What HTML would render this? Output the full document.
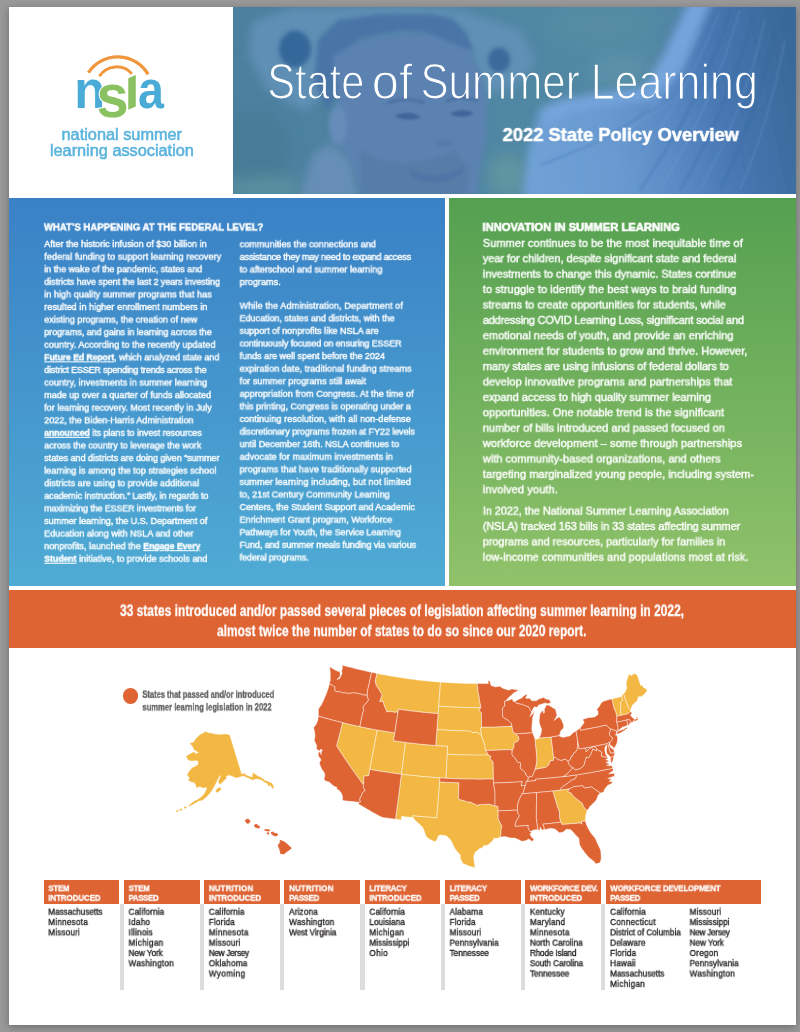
<!DOCTYPE html>
<html lang="en"><head><meta charset="utf-8"><title>State of Summer Learning - 2022 State Policy Overview</title>
<style>html,body{margin:0;padding:0}
body{width:800px;height:1032px;overflow:hidden;position:relative;background:#999;font-family:"Liberation Sans",sans-serif;}
#page{position:absolute;left:9px;top:7px;width:787px;height:1018px;background:#fff;box-shadow:0 1.5px 8px 0 rgba(0,0,0,.3);}
.t{position:absolute;white-space:nowrap;transform-origin:0 0;margin:0;will-change:transform;}
.w{color:#fff}
.b{font-weight:bold}
.ctr{left:9px!important;width:787px;text-align:center;transform-origin:50% 0;}
#photo{position:absolute;left:233px;top:7px;width:563px;height:187px;background:#4f7fae;overflow:hidden}
#blue{position:absolute;left:9px;top:198px;width:436px;height:387.8px;background:linear-gradient(#3a81c6,#4fabd4)}
#green{position:absolute;left:449px;top:198px;width:347px;height:387.8px;background:linear-gradient(#54a051,#90c26a)}
#banner{position:absolute;left:9px;top:590.3px;width:787px;height:57.7px;background:#df6434}
#dot{position:absolute;left:122.5px;top:688px;width:15.8px;height:15.8px;border-radius:50%;background:#df6434}
.leg{color:#5f6062;font-weight:bold}
#map{position:absolute;left:0;top:0;width:800px;height:1032px;pointer-events:none}
.th{position:absolute;top:880.4px;height:23.7px;background:#df6434}
.bar{position:absolute;top:904.1px;width:4.2px;height:86.4px;background:#dcddde}
.td{color:#231f20}
.body u{text-decoration-thickness:0.5px;text-underline-offset:0.7px}
.body b{font-size:.96em}
.h1{-webkit-text-stroke:0.4px #fff}
.body{-webkit-text-stroke:0.42px #fff;}
.td{-webkit-text-stroke:0.35px #231f20}
.hd{-webkit-text-stroke:0.3px #fff}
.hv{-webkit-text-stroke:0.6px #fff}
.leg{-webkit-text-stroke:0.3px #5f6062}
.sub{-webkit-text-stroke:0.5px #fff}
.bn{-webkit-text-stroke:0.3px #fff}
</style></head>
<body>
<div id="page"></div>
<div id="photo"><svg width="563" height="187" viewBox="233 7 563 187">
<defs>
<linearGradient id="pg" x1="0" y1="0" x2="1" y2="0"><stop offset="0" stop-color="#4b809e"/><stop offset=".5" stop-color="#5087a3"/><stop offset=".75" stop-color="#5288a4"/><stop offset="1" stop-color="#4a7fa8"/></linearGradient>
<linearGradient id="rg" gradientUnits="userSpaceOnUse" x1="522" y1="120" x2="796" y2="60"><stop offset="0" stop-color="#6fa1d6"/><stop offset=".3" stop-color="#6899d0"/><stop offset=".5" stop-color="#5a8ac4"/><stop offset=".72" stop-color="#4676b1"/><stop offset="1" stop-color="#386898"/></linearGradient>
<filter id="b2" x="-50%" y="-50%" width="200%" height="200%"><feGaussianBlur stdDeviation="2.2"/></filter>
<filter id="b4" x="-50%" y="-50%" width="200%" height="200%"><feGaussianBlur stdDeviation="4"/></filter>
<filter id="b8" x="-50%" y="-50%" width="200%" height="200%"><feGaussianBlur stdDeviation="8"/></filter>
<filter id="b1" x="-50%" y="-50%" width="200%" height="200%"><feGaussianBlur stdDeviation="1"/></filter>
</defs>
<rect x="233" y="7" width="563" height="187" fill="url(#pg)"/>
<g filter="url(#b8)">
<ellipse cx="255" cy="150" rx="35" ry="40" fill="#467c97"/>
<ellipse cx="265" cy="188" rx="40" ry="10" fill="#5a929f"/>
<ellipse cx="508" cy="176" rx="20" ry="22" fill="#5f96a0"/>
<ellipse cx="600" cy="25" rx="50" ry="22" fill="#548ca3"/>
<ellipse cx="620" cy="70" rx="30" ry="18" fill="#5a90a8"/>
</g>
<g filter="url(#b4)">
<path d="M687,0 L662,55 L645,87 L600,92 L560,100 L540,108 L528,150 L522,200 L800,200 L800,0 Z" fill="url(#rg)"/>
<path d="M690,0 L712,0 L682,70 L655,100 L610,104 L570,112 L548,125 L540,110 L560,100 L645,87 L664,55 Z" fill="#74a4dc"/>
<path d="M252,22 L292,8 L340,8 L400,6 L460,10 L520,30 L535,60 L520,85 L485,95 L470,50 L420,30 L362,36 L332,58 L332,87 L305,112 L267,90 L248,55 Z" fill="#6392b8" opacity=".85"/>
<path d="M300,200 L312,155 L330,143 L352,160 L360,200 Z" fill="#668eb6"/>
</g>
<g filter="url(#b2)">
<path d="M337,88 L330,58 L362,40 L400,34 L425,34 L465,44 L480,70 L487,100 L486,140 L480,170 L476,200 L362,200 L350,160 L338,140 Z" fill="#5b82b1"/>
<path d="M318,40 L338,20 L380,14 L430,14 L452,18 L466,32 L475,55 L470,50 L425,32 L400,31 L362,38 L332,58 L338,88 L328,112 L314,80 Z" fill="#4875a6"/>
<ellipse cx="295" cy="49" rx="16" ry="18.5" fill="#35689a"/>
<ellipse cx="499" cy="60" rx="11" ry="12.5" fill="#3a6a9b"/>
<ellipse cx="338" cy="125" rx="9" ry="20" fill="#668cba"/>
<path d="M360,150 Q400,175 455,150 L470,170 L465,200 L362,200 Z" fill="#53779f" opacity=".5"/>
</g>
<g filter="url(#b1)">
<path d="M411,170 Q436,182 463,167 L461,174 Q436,190 412,176 Z" fill="#4f74a6"/>
<path d="M395,116 Q408,109 421,117 Q408,123 395,116 Z M450,114 Q462,107 474,113 Q462,120 450,114 Z" fill="#41649a"/>
<path d="M388,103 Q408,96 424,103 M446,101 Q462,95 478,101" stroke="#4a6fa2" stroke-width="2.5" fill="none"/>
<ellipse cx="443" cy="143" rx="9" ry="4" fill="#5278aa" opacity=".6"/>
<g stroke="#7fabdc" stroke-width="1" fill="none" opacity=".45">
<path d="M720,10 Q690,90 620,190"/><path d="M740,10 Q715,100 660,190"/><path d="M765,20 Q745,110 700,190"/><path d="M785,40 Q770,120 740,190"/><path d="M700,30 Q670,100 590,170"/><path d="M680,95 Q640,130 560,150"/>
</g>
<g stroke="#35629a" stroke-width="1.5" fill="none" opacity=".35">
<path d="M730,10 Q705,95 640,190"/><path d="M753,15 Q730,105 680,190"/><path d="M775,30 Q757,115 720,190"/><path d="M650,110 Q610,140 540,165"/>
</g>
</g>
</svg>
</div>
<svg id="logo" width="224" height="187" viewBox="9 7 224 187" style="position:absolute;left:9px;top:7px" font-family="Liberation Sans, sans-serif" font-weight="bold">
<path d="M88.4,72.6 A35,35 0 0 1 148,74.4" fill="none" stroke="#f0963c" stroke-width="3.2"/>
<path d="M99.4,76.2 A20.4,20.4 0 0 1 131.8,73.7" fill="none" stroke="#f0963c" stroke-width="3"/>
<text transform="translate(74.2,107.5) scale(0.93,1)" font-size="54.5" fill="#4aabd6">n</text>
<text transform="translate(96.4,117.2) scale(0.95,1)" font-size="61" fill="#8bc261" stroke="#fff" stroke-width="2.2" paint-order="stroke">s</text>
<text transform="translate(124.6,111.6) skewY(-24) scale(1.25,1)" font-size="43.5" fill="#8bc261">l</text>
<text transform="translate(138.0,107.5) scale(0.88,1)" font-size="53" fill="#4aabd6">a</text>
<g font-weight="normal" font-size="16" fill="#5bb4dd" stroke="#5bb4dd" stroke-width="0.55" text-anchor="middle">
<text x="121.8" y="140.2" textLength="120.5" lengthAdjust="spacingAndGlyphs">national summer</text>
<text x="121.9" y="155.5" textLength="144" lengthAdjust="spacingAndGlyphs">learning association</text>
</g>
</svg>

<svg id="title" width="563" height="187" viewBox="233 7 563 187" style="position:absolute;left:233px;top:7px" font-family="Liberation Sans, sans-serif" font-size="49.5"><defs><mask id="thin" maskUnits="userSpaceOnUse" x="233" y="7" width="563" height="187"><g fill="#fff" stroke="#000" stroke-width="1.25"><text x="267.24" y="98.6" textLength="97.03" lengthAdjust="spacingAndGlyphs" >State</text><text x="371.81" y="98.6" textLength="40.69" lengthAdjust="spacingAndGlyphs" >of</text><text x="420.50" y="98.6" textLength="159.25" lengthAdjust="spacingAndGlyphs" >Summer</text><text x="590.68" y="98.6" textLength="167.12" lengthAdjust="spacingAndGlyphs" >Learning</text></g></mask></defs><g fill="#fff" mask="url(#thin)"><text x="267.24" y="98.6" textLength="97.03" lengthAdjust="spacingAndGlyphs" class="tw">State</text><text x="371.81" y="98.6" textLength="40.69" lengthAdjust="spacingAndGlyphs" class="tw">of</text><text x="420.50" y="98.6" textLength="159.25" lengthAdjust="spacingAndGlyphs" class="tw">Summer</text><text x="590.68" y="98.6" textLength="167.12" lengthAdjust="spacingAndGlyphs" class="tw">Learning</text></g></svg>
<div class="t w b sub" id="st_0" style="left:502px;top:124px;font-size:18.4px;line-height:22px;transform:translate(0.60px,0.00px) scaleX(0.9963);letter-spacing:-0.000px;"><span>2022 State Policy Overview</span></div>
<div id="blue"></div><div id="green"></div><div id="banner"></div>
<div class="t w b h1" id="h1_0" style="left:43px;top:221px;font-size:10.4px;line-height:13px;transform:translate(0.90px,0.60px) scale(0.9195,0.89);"><span>WHAT’S HAPPENING AT THE FEDERAL LEVEL?</span></div>
<div class="t w body" id="b1_0" style="left:44px;top:238px;font-size:9.3px;line-height:12.587px;transform:translate(0.20px,0.05px) scaleX(0.969);letter-spacing:0.029px;"><span>After the historic infusion of $30 billion in</span></div>
<div class="t w body" id="b1_1" style="left:44px;top:250px;font-size:9.3px;line-height:12.587px;transform:translate(0.20px,0.64px) scaleX(0.969);letter-spacing:0.077px;"><span>federal funding to support learning recovery</span></div>
<div class="t w body" id="b1_2" style="left:44px;top:263px;font-size:9.3px;line-height:12.587px;transform:translate(0.20px,0.22px) scaleX(0.969);letter-spacing:-0.021px;"><span>in the wake of the pandemic, states and</span></div>
<div class="t w body" id="b1_3" style="left:44px;top:275px;font-size:9.3px;line-height:12.587px;transform:translate(0.20px,0.81px) scaleX(0.969);letter-spacing:-0.068px;"><span>districts have spent the last 2 years investing</span></div>
<div class="t w body" id="b1_4" style="left:44px;top:288px;font-size:9.3px;line-height:12.587px;transform:translate(0.20px,0.40px) scaleX(0.969);letter-spacing:0.060px;"><span>in high quality summer programs that has</span></div>
<div class="t w body" id="b1_5" style="left:44px;top:300px;font-size:9.3px;line-height:12.587px;transform:translate(0.20px,0.99px) scaleX(0.969);letter-spacing:0.066px;"><span>resulted in higher enrollment numbers in</span></div>
<div class="t w body" id="b1_6" style="left:44px;top:313px;font-size:9.3px;line-height:12.587px;transform:translate(0.20px,0.57px) scaleX(0.969);letter-spacing:0.021px;"><span>existing programs, the creation of new</span></div>
<div class="t w body" id="b1_7" style="left:44px;top:326px;font-size:9.3px;line-height:12.587px;transform:translate(0.20px,0.16px) scaleX(0.969);letter-spacing:-0.070px;"><span>programs, and gains in learning across the</span></div>
<div class="t w body" id="b1_8" style="left:44px;top:338px;font-size:9.3px;line-height:12.587px;transform:translate(0.20px,0.75px) scaleX(0.969);letter-spacing:0.092px;"><span>country. According to the recently updated</span></div>
<div class="t w body" id="b1_9" style="left:44px;top:351px;font-size:9.3px;line-height:12.587px;transform:translate(0.20px,0.33px) scaleX(0.969);letter-spacing:-0.042px;"><span><b><u>Future Ed Report</u></b>, which analyzed state and</span></div>
<div class="t w body" id="b1_10" style="left:44px;top:363px;font-size:9.3px;line-height:12.587px;transform:translate(0.20px,0.92px) scaleX(0.969);letter-spacing:-0.187px;"><span>district ESSER spending trends across the</span></div>
<div class="t w body" id="b1_11" style="left:44px;top:376px;font-size:9.3px;line-height:12.587px;transform:translate(0.20px,0.51px) scaleX(0.969);letter-spacing:0.053px;"><span>country, investments in summer learning</span></div>
<div class="t w body" id="b1_12" style="left:44px;top:389px;font-size:9.3px;line-height:12.587px;transform:translate(0.20px,0.09px) scaleX(0.969);letter-spacing:-0.001px;"><span>made up over a quarter of funds allocated</span></div>
<div class="t w body" id="b1_13" style="left:44px;top:401px;font-size:9.3px;line-height:12.587px;transform:translate(0.20px,0.68px) scaleX(0.969);letter-spacing:-0.013px;"><span>for learning recovery. Most recently in July</span></div>
<div class="t w body" id="b1_14" style="left:44px;top:414px;font-size:9.3px;line-height:12.587px;transform:translate(0.20px,0.27px) scaleX(0.969);letter-spacing:0.001px;"><span>2022, the Biden-Harris Administration</span></div>
<div class="t w body" id="b1_15" style="left:44px;top:426px;font-size:9.3px;line-height:12.587px;transform:translate(0.20px,0.86px) scaleX(0.969);letter-spacing:-0.060px;"><span><b><u>announced</u></b> its plans to invest resources</span></div>
<div class="t w body" id="b1_16" style="left:44px;top:439px;font-size:9.3px;line-height:12.587px;transform:translate(0.20px,0.44px) scaleX(0.969);letter-spacing:-0.006px;"><span>across the country to leverage the work</span></div>
<div class="t w body" id="b1_17" style="left:44px;top:452px;font-size:9.3px;line-height:12.587px;transform:translate(0.20px,0.03px) scaleX(0.969);letter-spacing:-0.036px;"><span>states and districts are doing given “summer</span></div>
<div class="t w body" id="b1_18" style="left:44px;top:464px;font-size:9.3px;line-height:12.587px;transform:translate(0.20px,0.62px) scaleX(0.969);letter-spacing:0.018px;"><span>learning is among the top strategies school</span></div>
<div class="t w body" id="b1_19" style="left:44px;top:477px;font-size:9.3px;line-height:12.587px;transform:translate(0.20px,0.20px) scaleX(0.969);letter-spacing:0.039px;"><span>districts are using to provide additional</span></div>
<div class="t w body" id="b1_20" style="left:44px;top:489px;font-size:9.3px;line-height:12.587px;transform:translate(0.20px,0.79px) scaleX(0.969);letter-spacing:-0.092px;"><span>academic instruction.” Lastly, in regards to</span></div>
<div class="t w body" id="b1_21" style="left:44px;top:502px;font-size:9.3px;line-height:12.587px;transform:translate(0.20px,0.38px) scaleX(0.969);letter-spacing:-0.147px;"><span>maximizing the ESSER investments for</span></div>
<div class="t w body" id="b1_22" style="left:44px;top:514px;font-size:9.3px;line-height:12.587px;transform:translate(0.20px,0.96px) scaleX(0.969);letter-spacing:-0.033px;"><span>summer learning, the U.S. Department of</span></div>
<div class="t w body" id="b1_23" style="left:44px;top:527px;font-size:9.3px;line-height:12.587px;transform:translate(0.20px,0.55px) scaleX(0.969);letter-spacing:-0.000px;"><span>Education along with NSLA and other</span></div>
<div class="t w body" id="b1_24" style="left:44px;top:540px;font-size:9.3px;line-height:12.587px;transform:translate(0.20px,0.14px) scaleX(0.969);letter-spacing:0.014px;"><span>nonprofits, launched the <b><u>Engage Every</u></b></span></div>
<div class="t w body" id="b1_25" style="left:44px;top:552px;font-size:9.3px;line-height:12.587px;transform:translate(0.20px,0.73px) scaleX(0.969);letter-spacing:0.023px;"><span><b><u>Student</u></b> initiative, to provide schools and</span></div>
<div class="t w body" id="b2a_0" style="left:239px;top:238px;font-size:9.3px;line-height:12.587px;transform:translate(0.60px,0.30px) scaleX(0.9854);letter-spacing:0.009px;"><span>communities the connections and</span></div>
<div class="t w body" id="b2a_1" style="left:239px;top:250px;font-size:9.3px;line-height:12.587px;transform:translate(0.60px,0.89px) scaleX(0.9854);letter-spacing:-0.210px;"><span>assistance they may need to expand access</span></div>
<div class="t w body" id="b2a_2" style="left:239px;top:263px;font-size:9.3px;line-height:12.587px;transform:translate(0.60px,0.47px) scaleX(0.9854);letter-spacing:-0.026px;"><span>to afterschool and summer learning</span></div>
<div class="t w body" id="b2a_3" style="left:239px;top:276px;font-size:9.3px;line-height:12.587px;transform:translate(0.60px,0.06px) scaleX(0.9854);letter-spacing:0.000px;"><span>programs.</span></div>
<div class="t w body" id="b2b_0" style="left:239px;top:299px;font-size:9.3px;line-height:12.587px;transform:translate(0.60px,0.70px) scaleX(0.9675);letter-spacing:0.130px;"><span>While the Administration, Department of</span></div>
<div class="t w body" id="b2b_1" style="left:239px;top:312px;font-size:9.3px;line-height:12.587px;transform:translate(0.60px,0.29px) scaleX(0.9675);letter-spacing:-0.013px;"><span>Education, states and districts, with the</span></div>
<div class="t w body" id="b2b_2" style="left:239px;top:324px;font-size:9.3px;line-height:12.587px;transform:translate(0.60px,0.87px) scaleX(0.9675);"><span>support of nonprofits like NSLA are</span></div>
<div class="t w body" id="b2b_3" style="left:239px;top:337px;font-size:9.3px;line-height:12.587px;transform:translate(0.60px,0.46px) scaleX(0.9675);letter-spacing:-0.126px;"><span>continuously focused on ensuring ESSER</span></div>
<div class="t w body" id="b2b_4" style="left:239px;top:350px;font-size:9.3px;line-height:12.587px;transform:translate(0.60px,0.05px) scaleX(0.9675);letter-spacing:-0.008px;"><span>funds are well spent before the 2024</span></div>
<div class="t w body" id="b2b_5" style="left:239px;top:362px;font-size:9.3px;line-height:12.587px;transform:translate(0.60px,0.63px) scaleX(0.9675);letter-spacing:0.060px;"><span>expiration date, traditional funding streams</span></div>
<div class="t w body" id="b2b_6" style="left:239px;top:375px;font-size:9.3px;line-height:12.587px;transform:translate(0.60px,0.22px) scaleX(0.9675);letter-spacing:0.053px;"><span>for summer programs still await</span></div>
<div class="t w body" id="b2b_7" style="left:239px;top:387px;font-size:9.3px;line-height:12.587px;transform:translate(0.60px,0.81px) scaleX(0.9675);letter-spacing:0.062px;"><span>appropriation from Congress. At the time of</span></div>
<div class="t w body" id="b2b_8" style="left:239px;top:400px;font-size:9.3px;line-height:12.587px;transform:translate(0.60px,0.40px) scaleX(0.9675);letter-spacing:-0.006px;"><span>this printing, Congress is operating under a</span></div>
<div class="t w body" id="b2b_9" style="left:239px;top:412px;font-size:9.3px;line-height:12.587px;transform:translate(0.60px,0.98px) scaleX(0.9675);letter-spacing:0.092px;"><span>continuing resolution, with all non-defense</span></div>
<div class="t w body" id="b2b_10" style="left:239px;top:425px;font-size:9.3px;line-height:12.587px;transform:translate(0.60px,0.57px) scaleX(0.9675);letter-spacing:-0.077px;"><span>discretionary programs frozen at FY22 levels</span></div>
<div class="t w body" id="b2b_11" style="left:239px;top:438px;font-size:9.3px;line-height:12.587px;transform:translate(0.60px,0.16px) scaleX(0.9675);"><span>until December 16th. NSLA continues to</span></div>
<div class="t w body" id="b2b_12" style="left:239px;top:450px;font-size:9.3px;line-height:12.587px;transform:translate(0.60px,0.74px) scaleX(0.9675);letter-spacing:0.069px;"><span>advocate for maximum investments in</span></div>
<div class="t w body" id="b2b_13" style="left:239px;top:463px;font-size:9.3px;line-height:12.587px;transform:translate(0.60px,0.33px) scaleX(0.9675);letter-spacing:0.101px;"><span>programs that have traditionally supported</span></div>
<div class="t w body" id="b2b_14" style="left:239px;top:475px;font-size:9.3px;line-height:12.587px;transform:translate(0.60px,0.92px) scaleX(0.9675);letter-spacing:0.133px;"><span>summer learning including, but not limited</span></div>
<div class="t w body" id="b2b_15" style="left:239px;top:488px;font-size:9.3px;line-height:12.587px;transform:translate(0.60px,0.50px) scaleX(0.9675);letter-spacing:0.031px;"><span>to, 21st Century Community Learning</span></div>
<div class="t w body" id="b2b_16" style="left:239px;top:501px;font-size:9.3px;line-height:12.587px;transform:translate(0.60px,0.09px) scaleX(0.9675);letter-spacing:-0.007px;"><span>Centers, the Student Support and Academic</span></div>
<div class="t w body" id="b2b_17" style="left:239px;top:513px;font-size:9.3px;line-height:12.587px;transform:translate(0.60px,0.68px) scaleX(0.9675);letter-spacing:0.006px;"><span>Enrichment Grant program, Workforce</span></div>
<div class="t w body" id="b2b_18" style="left:239px;top:526px;font-size:9.3px;line-height:12.587px;transform:translate(0.60px,0.27px) scaleX(0.9675);letter-spacing:-0.087px;"><span>Pathways for Youth, the Service Learning</span></div>
<div class="t w body" id="b2b_19" style="left:239px;top:538px;font-size:9.3px;line-height:12.587px;transform:translate(0.60px,0.85px) scaleX(0.9675);letter-spacing:-0.075px;"><span>Fund, and summer meals funding via various</span></div>
<div class="t w body" id="b2b_20" style="left:239px;top:551px;font-size:9.3px;line-height:12.587px;transform:translate(0.60px,0.44px) scaleX(0.9675);letter-spacing:-0.096px;"><span>federal programs.</span></div>
<div class="t w b hv" id="h2_0" style="left:482px;top:219px;font-size:11.5px;line-height:14px;transform:translate(0.50px,0.90px) scaleX(0.9736);"><span>INNOVATION IN SUMMER LEARNING</span></div>
<div class="t w body" id="ga_0" style="left:482px;top:235px;font-size:11.3px;line-height:15.4px;transform:translate(0.80px,0.85px) scaleX(0.978);letter-spacing:0.042px;"><span>Summer continues to be the most inequitable time of</span></div>
<div class="t w body" id="ga_1" style="left:482px;top:251px;font-size:11.3px;line-height:15.4px;transform:translate(0.80px,0.25px) scaleX(0.978);letter-spacing:-0.092px;"><span>year for children, despite significant state and federal</span></div>
<div class="t w body" id="ga_2" style="left:482px;top:266px;font-size:11.3px;line-height:15.4px;transform:translate(0.80px,0.65px) scaleX(0.978);letter-spacing:-0.076px;"><span>investments to change this dynamic. States continue</span></div>
<div class="t w body" id="ga_3" style="left:482px;top:282px;font-size:11.3px;line-height:15.4px;transform:translate(0.80px,0.05px) scaleX(0.978);letter-spacing:0.034px;"><span>to struggle to identify the best ways to braid funding</span></div>
<div class="t w body" id="ga_4" style="left:482px;top:297px;font-size:11.3px;line-height:15.4px;transform:translate(0.80px,0.45px) scaleX(0.978);letter-spacing:-0.015px;"><span>streams to create opportunities for students, while</span></div>
<div class="t w body" id="ga_5" style="left:482px;top:312px;font-size:11.3px;line-height:15.4px;transform:translate(0.80px,0.85px) scaleX(0.978);letter-spacing:-0.223px;"><span>addressing COVID Learning Loss, significant social and</span></div>
<div class="t w body" id="ga_6" style="left:482px;top:328px;font-size:11.3px;line-height:15.4px;transform:translate(0.80px,0.25px) scaleX(0.978);letter-spacing:-0.000px;"><span>emotional needs of youth, and provide an enriching</span></div>
<div class="t w body" id="ga_7" style="left:482px;top:343px;font-size:11.3px;line-height:15.4px;transform:translate(0.80px,0.65px) scaleX(0.978);letter-spacing:-0.004px;"><span>environment for students to grow and thrive. However,</span></div>
<div class="t w body" id="ga_8" style="left:482px;top:359px;font-size:11.3px;line-height:15.4px;transform:translate(0.80px,0.05px) scaleX(0.978);letter-spacing:-0.112px;"><span>many states are using infusions of federal dollars to</span></div>
<div class="t w body" id="ga_9" style="left:482px;top:374px;font-size:11.3px;line-height:15.4px;transform:translate(0.80px,0.45px) scaleX(0.978);letter-spacing:0.029px;"><span>develop innovative programs and partnerships that</span></div>
<div class="t w body" id="ga_10" style="left:482px;top:389px;font-size:11.3px;line-height:15.4px;transform:translate(0.80px,0.85px) scaleX(0.978);letter-spacing:-0.051px;"><span>expand access to high quality summer learning</span></div>
<div class="t w body" id="ga_11" style="left:482px;top:405px;font-size:11.3px;line-height:15.4px;transform:translate(0.80px,0.25px) scaleX(0.978);letter-spacing:0.034px;"><span>opportunities. One notable trend is the significant</span></div>
<div class="t w body" id="ga_12" style="left:482px;top:420px;font-size:11.3px;line-height:15.4px;transform:translate(0.80px,0.65px) scaleX(0.978);letter-spacing:-0.040px;"><span>number of bills introduced and passed focused on</span></div>
<div class="t w body" id="ga_13" style="left:482px;top:436px;font-size:11.3px;line-height:15.4px;transform:translate(0.80px,0.05px) scaleX(0.978);letter-spacing:0.028px;"><span>workforce development – some through partnerships</span></div>
<div class="t w body" id="ga_14" style="left:482px;top:451px;font-size:11.3px;line-height:15.4px;transform:translate(0.80px,0.45px) scaleX(0.978);letter-spacing:0.019px;"><span>with community-based organizations, and others</span></div>
<div class="t w body" id="ga_15" style="left:482px;top:466px;font-size:11.3px;line-height:15.4px;transform:translate(0.80px,0.85px) scaleX(0.978);letter-spacing:0.031px;"><span>targeting marginalized young people, including system-</span></div>
<div class="t w body" id="ga_16" style="left:482px;top:482px;font-size:11.3px;line-height:15.4px;transform:translate(0.80px,0.25px) scaleX(0.978);letter-spacing:0.101px;"><span>involved youth.</span></div>
<div class="t w body" id="gb_0" style="left:482px;top:503px;font-size:11.3px;line-height:15.37px;transform:translate(0.80px,0.60px) scaleX(0.958);letter-spacing:-0.012px;"><span>In 2022, the National Summer Learning Association</span></div>
<div class="t w body" id="gb_1" style="left:482px;top:518px;font-size:11.3px;line-height:15.37px;transform:translate(0.80px,0.97px) scaleX(0.958);letter-spacing:-0.068px;"><span>(NSLA) tracked 163 bills in 33 states affecting summer</span></div>
<div class="t w body" id="gb_2" style="left:482px;top:534px;font-size:11.3px;line-height:15.37px;transform:translate(0.80px,0.34px) scaleX(0.958);"><span>programs and resources, particularly for families in</span></div>
<div class="t w body" id="gb_3" style="left:482px;top:549px;font-size:11.3px;line-height:15.37px;transform:translate(0.80px,0.71px) scaleX(0.958);letter-spacing:0.130px;"><span>low-income communities and populations most at risk.</span></div>
<div class="t w b bn" id="bn1_0" style="left:120px;top:600px;font-size:16.5px;line-height:20.6px;transform:translate(0.00px,0.70px) scale(0.7262,0.95);letter-spacing:-0.000px;"><span>33 states introduced and/or passed several pieces of legislation affecting summer learning in 2022,</span></div>
<div class="t w b bn" id="bn2_0" style="left:217px;top:620px;font-size:16.5px;line-height:20.6px;transform:translate(0.00px,0.90px) scale(0.7235,0.95);letter-spacing:0.000px;"><span>almost twice the number of states to do so since our 2020 report.</span></div>
<div id="dot"></div>
<div class="t leg" id="lg_0" style="left:142px;top:688px;font-size:10.6px;line-height:12.7px;transform:translate(0.40px,0.60px) scale(0.7195,0.92);letter-spacing:-0.094px;"><span>States that passed and/or introduced</span></div>
<div class="t leg" id="lg_1" style="left:142px;top:701px;font-size:10.6px;line-height:12.7px;transform:translate(0.40px,0.30px) scale(0.7195,0.92);letter-spacing:-0.000px;"><span>summer learning legislation in 2022</span></div>
<div id="map"><svg width="800" height="1032" viewBox="0 0 800 1032">
<g fill="#f3b843" stroke="#fff" stroke-width="0.45" stroke-linejoin="round">
<path d="M342.5,722.6L345.4,723.3L348.3,724.0L351.1,724.7L354.0,725.3L356.9,725.9L359.8,726.6L362.7,727.2L365.6,727.8L368.5,728.3L371.4,728.9L374.3,729.5L377.3,730.0L376.6,733.6L375.9,737.1L375.2,740.7L374.6,744.3L373.9,747.9L373.2,751.5L372.6,755.0L371.9,758.6L371.2,762.2L370.5,765.8L369.9,769.4L369.3,772.5L368.7,775.7L366.7,776.0L364.1,776.1L363.9,778.3L363.6,780.5L363.9,782.9L363.2,784.4L360.6,781.0L358.1,777.5L355.6,774.1L353.1,770.6L350.6,767.1L348.2,763.6L345.8,760.1L343.5,756.5L341.2,753.0L338.9,749.5L336.6,745.9L337.5,742.6L338.3,739.3L339.2,735.9L340.0,732.6L340.8,729.3L341.7,725.9Z"/>
<path d="M376.8,673.4L379.3,673.9L381.9,674.4L384.4,674.8L386.9,675.3L389.5,675.8L392.0,676.2L394.5,676.6L397.1,677.0L399.6,677.4L402.2,677.8L404.7,678.2L407.3,678.6L409.8,678.9L412.4,679.3L414.9,679.6L417.5,679.9L420.0,680.2L422.6,680.5L425.2,680.8L427.7,681.0L430.3,681.3L432.8,681.5L435.4,681.7L438.0,681.9L440.5,682.1L440.3,685.6L440.0,689.0L439.8,692.4L439.5,695.9L439.2,699.3L439.0,702.8L438.7,706.2L438.4,709.9L438.1,713.6L435.5,713.4L432.8,713.2L430.2,713.0L427.5,712.7L424.9,712.5L422.2,712.2L419.6,711.9L416.9,711.6L414.3,711.3L411.6,711.0L409.0,710.7L406.4,710.3L403.7,710.0L401.1,709.6L398.4,709.2L398.1,711.3L397.8,713.4L396.7,711.6L395.4,712.4L393.1,712.0L390.8,711.6L388.8,711.7L386.7,711.8L385.7,708.7L384.9,707.4L383.5,703.6L383.1,701.2L381.4,701.4L379.6,701.6L380.7,699.0L381.4,696.7L382.1,694.4L381.0,693.2L379.7,690.8L378.0,688.0L376.2,685.6L375.7,683.4L375.2,681.2L375.7,678.6L376.3,676.0Z"/>
<path d="M377.3,730.0L380.2,730.5L383.1,731.0L386.0,731.5L389.0,732.0L391.9,732.4L394.8,732.9L394.4,735.5L394.0,738.1L393.6,740.8L396.0,741.1L398.4,741.5L400.8,741.8L403.2,742.1L405.6,742.4L405.1,746.0L404.7,749.5L404.2,753.0L403.7,756.6L403.3,760.1L402.8,763.6L402.4,767.2L401.9,770.7L401.4,774.2L398.5,773.8L395.7,773.5L392.8,773.1L389.9,772.6L387.1,772.2L384.2,771.8L381.3,771.3L378.4,770.9L375.6,770.4L372.7,769.9L369.9,769.4L370.5,765.8L371.2,762.2L371.9,758.6L372.6,755.0L373.2,751.5L373.9,747.9L374.6,744.3L375.2,740.7L375.9,737.1L376.6,733.6Z"/>
<path d="M405.6,742.4L408.3,742.8L411.1,743.1L413.8,743.4L416.5,743.7L419.2,744.0L422.0,744.3L424.7,744.5L427.5,744.8L430.2,745.0L432.9,745.3L435.7,745.5L438.1,745.7L440.5,745.8L442.9,746.0L445.3,746.1L447.7,746.3L447.6,748.9L447.4,751.6L447.3,754.3L447.1,757.7L446.9,761.1L446.7,764.5L446.6,768.0L446.4,771.4L446.2,774.8L446.0,778.3L443.0,778.1L439.9,777.9L436.9,777.7L434.0,777.5L431.0,777.3L428.0,777.0L425.1,776.8L422.1,776.5L419.2,776.2L416.2,775.9L413.2,775.6L410.3,775.3L407.3,774.9L404.4,774.6L401.4,774.2L401.9,770.7L402.4,767.2L402.8,763.6L403.3,760.1L403.7,756.6L404.2,753.0L404.7,749.5L405.1,746.0Z"/>
<path d="M401.4,774.2L404.4,774.6L407.3,774.9L410.3,775.3L413.2,775.6L416.2,775.9L419.2,776.2L422.1,776.5L425.1,776.8L428.0,777.0L431.0,777.3L434.0,777.5L436.9,777.7L439.9,777.9L439.8,779.9L439.6,781.9L439.4,785.5L439.1,789.1L438.8,792.7L438.5,796.3L438.3,799.9L438.0,803.5L437.7,807.0L437.4,810.6L437.1,814.2L436.9,817.8L433.8,817.6L430.8,817.4L427.8,817.1L424.8,816.9L421.7,816.6L418.7,816.4L415.7,816.1L412.7,815.8L413.1,817.6L410.3,817.3L407.4,817.0L404.5,816.7L401.7,816.3L401.3,819.9L398.4,819.5L395.5,819.2L396.0,815.5L396.5,811.7L397.0,808.0L397.5,804.2L398.0,800.5L398.5,796.7L399.0,793.0L399.5,789.2L400.0,785.5L400.4,781.7L400.9,778.0Z"/>
<path d="M440.5,682.1L443.2,682.3L445.8,682.5L448.4,682.7L451.0,682.8L453.6,683.0L456.2,683.1L458.8,683.2L461.4,683.3L464.0,683.4L466.7,683.4L469.3,683.5L471.9,683.5L474.5,683.6L477.1,683.6L477.4,685.6L477.8,687.5L477.9,689.9L478.1,692.2L478.6,694.2L479.1,696.2L479.3,698.3L479.5,700.4L480.0,702.7L480.5,705.1L480.8,707.7L478.0,707.7L475.2,707.7L472.4,707.7L469.5,707.6L466.7,707.6L463.9,707.5L461.1,707.4L458.3,707.3L455.5,707.2L452.7,707.1L449.9,706.9L447.1,706.8L444.3,706.6L441.5,706.4L438.7,706.2L439.0,702.8L439.2,699.3L439.5,695.9L439.8,692.4L440.0,689.0L440.3,685.6Z"/>
<path d="M438.7,706.2L441.5,706.4L444.3,706.6L447.1,706.8L449.9,706.9L452.7,707.1L455.5,707.2L458.3,707.3L461.1,707.4L463.9,707.5L466.7,707.6L469.5,707.6L472.4,707.7L475.2,707.7L478.0,707.7L480.8,707.7L479.2,710.4L481.4,712.8L481.4,716.4L481.5,720.0L481.5,723.5L481.5,727.1L480.6,728.7L481.2,731.9L481.5,735.2L480.0,734.3L478.3,733.3L476.5,732.2L474.7,732.5L473.0,732.7L471.2,731.9L469.5,731.0L466.7,731.0L464.0,730.9L461.3,730.8L458.6,730.7L455.9,730.6L453.2,730.5L450.5,730.4L447.7,730.2L445.0,730.1L442.3,729.9L439.6,729.7L436.9,729.5L437.1,726.4L437.4,723.2L437.6,720.0L437.9,716.8L438.1,713.6L438.4,709.9Z"/>
<path d="M436.9,729.5L439.6,729.7L442.3,729.9L445.0,730.1L447.7,730.2L450.5,730.4L453.2,730.5L455.9,730.6L458.6,730.7L461.3,730.8L464.0,730.9L466.7,731.0L469.5,731.0L471.2,731.9L473.0,732.7L474.7,732.5L476.5,732.2L478.3,733.3L480.0,734.3L481.5,735.2L482.1,737.5L482.9,739.5L483.6,741.5L484.3,743.5L484.9,745.5L485.1,747.5L485.2,749.5L485.7,750.4L487.1,752.7L488.6,755.1L485.7,755.1L482.7,755.1L479.7,755.1L476.8,755.1L473.8,755.1L470.9,755.1L467.9,755.0L465.0,754.9L462.0,754.9L459.1,754.8L456.1,754.7L453.2,754.5L450.2,754.4L447.3,754.3L447.4,751.6L447.6,748.9L447.7,746.3L445.3,746.1L442.9,746.0L440.5,745.8L438.1,745.7L435.7,745.5L435.9,742.3L436.2,739.1L436.4,735.9L436.7,732.7Z"/>
<path d="M447.3,754.3L450.2,754.4L453.2,754.5L456.1,754.7L459.1,754.8L462.0,754.9L465.0,754.9L467.9,755.0L470.9,755.1L473.8,755.1L476.8,755.1L479.7,755.1L482.7,755.1L485.7,755.1L488.6,755.1L491.2,756.6L490.0,758.6L491.5,760.3L493.1,762.0L493.2,765.4L493.2,768.8L493.3,772.2L493.4,775.6L493.4,779.0L490.3,779.1L487.1,779.1L483.9,779.1L480.8,779.2L477.6,779.2L474.5,779.1L471.3,779.1L468.1,779.1L465.0,779.0L461.8,778.9L458.7,778.8L455.5,778.7L452.3,778.6L449.2,778.4L446.0,778.3L446.2,774.8L446.4,771.4L446.6,768.0L446.7,764.5L446.9,761.1L447.1,757.7Z"/>
<path d="M439.6,781.9L442.4,782.1L445.1,782.2L447.9,782.4L450.6,782.5L453.4,782.6L456.2,782.7L458.9,782.8L458.8,786.7L458.6,790.6L458.5,794.5L458.4,798.4L460.3,799.7L462.0,800.2L463.6,800.6L465.6,801.2L467.6,801.9L469.2,802.0L470.9,802.2L473.5,803.6L475.3,804.4L477.2,805.2L479.0,804.8L480.8,804.4L482.8,804.4L484.8,804.4L487.2,804.2L489.5,804.1L491.5,804.8L493.5,805.4L495.0,805.9L498.0,806.5L498.0,808.6L498.1,810.8L498.2,813.5L498.2,816.2L498.3,818.9L499.7,822.0L500.8,824.0L501.9,826.0L501.5,828.0L501.0,830.0L501.0,832.0L501.0,833.9L500.3,837.2L498.3,837.8L496.4,838.5L493.9,838.1L493.3,840.1L491.2,842.1L488.0,845.0L485.9,845.4L483.8,845.8L481.7,848.2L479.9,848.2L477.4,850.5L474.9,852.5L474.3,854.7L473.6,856.8L474.0,859.8L474.4,862.8L474.7,865.2L475.0,867.7L472.2,867.1L470.4,866.5L468.6,865.9L465.7,864.6L462.8,863.4L461.6,861.0L460.4,858.6L460.2,856.6L460.1,854.6L457.7,852.2L456.1,850.2L454.6,848.1L453.4,845.7L452.3,843.3L450.3,839.6L448.5,837.9L446.6,836.1L443.8,835.5L441.1,835.0L438.5,835.8L437.7,837.8L436.9,839.7L435.0,841.7L432.2,840.6L430.5,839.7L428.8,838.8L425.9,836.1L425.2,833.9L424.5,831.7L423.6,829.6L422.7,827.5L420.8,825.6L418.9,823.7L417.0,822.0L415.1,820.3L413.1,817.6L412.7,815.8L415.7,816.1L418.7,816.4L421.7,816.6L424.8,816.9L427.8,817.1L430.8,817.4L433.8,817.6L436.9,817.8L437.1,814.2L437.4,810.6L437.7,807.0L438.0,803.5L438.3,799.9L438.5,796.3L438.8,792.7L439.1,789.1L439.4,785.5Z"/>
<path d="M481.5,727.1L484.3,727.1L487.0,727.1L489.8,727.0L492.6,727.0L495.3,726.9L498.1,726.8L500.9,726.7L503.7,726.6L506.4,726.5L509.2,726.3L512.0,726.2L512.3,728.2L512.6,730.2L513.0,732.1L515.9,733.9L518.7,737.0L518.9,739.4L517.5,741.5L515.8,742.2L514.0,742.9L514.0,745.3L514.0,747.7L512.3,749.8L512.3,751.2L510.3,749.5L507.6,749.7L504.8,749.8L502.1,749.9L499.4,750.0L496.6,750.2L493.9,750.2L491.2,750.3L488.5,750.4L485.7,750.4L485.2,749.5L485.1,747.5L484.9,745.5L484.3,743.5L483.6,741.5L482.9,739.5L482.1,737.5L481.5,735.2L481.2,731.9L480.6,728.7Z"/>
<path d="M534.9,738.8L536.9,739.3L539.0,738.0L541.4,737.8L543.9,737.6L546.3,737.4L548.7,737.3L551.1,737.1L551.5,740.5L552.0,743.9L552.4,747.4L552.8,750.8L553.2,754.3L553.7,757.7L553.5,760.3L551.8,760.7L550.1,761.1L548.7,765.0L547.1,766.3L545.5,767.6L544.0,767.8L542.4,768.0L539.9,768.4L537.4,768.8L534.8,770.2L535.5,767.6L536.1,764.9L536.7,761.2L536.7,757.6L536.4,753.8L536.0,750.0L535.6,746.3L535.3,742.5Z"/>
<path d="M552.8,790.9L555.6,790.6L558.4,790.3L561.1,789.9L563.8,789.6L566.4,789.2L569.1,788.8L567.8,791.4L571.0,793.0L573.5,796.3L576.7,799.0L579.0,800.7L582.1,803.0L583.3,806.1L584.6,807.9L585.9,809.7L587.7,810.0L586.4,812.5L585.6,816.2L585.5,818.6L585.4,821.0L583.5,821.2L581.6,821.3L581.7,824.3L580.4,822.9L577.4,823.2L574.3,823.5L571.2,823.7L568.2,824.0L565.1,824.2L562.0,824.4L560.8,822.2L560.1,819.8L559.5,817.5L559.5,814.7L559.4,811.9L558.6,809.7L557.7,807.5L556.7,804.2L555.7,800.9L554.7,797.6L553.8,794.3Z"/>
<path d="M611.8,699.0L614.4,698.3L616.9,697.7L619.5,697.0L622.0,696.3L622.3,698.4L622.6,700.4L620.5,702.6L621.1,704.9L620.8,707.1L620.6,710.8L621.0,713.1L621.4,715.3L619.1,715.8L616.8,716.3L616.0,713.2L615.3,710.1L614.3,709.9L613.6,706.4L612.8,702.9L612.3,700.9Z"/>
<path d="M622.0,696.3L622.1,694.4L623.7,693.5L624.5,696.0L625.3,698.6L626.2,701.1L627.1,703.8L628.1,706.6L628.4,707.9L630.7,710.0L630.5,711.7L628.6,713.3L628.1,713.8L625.9,714.3L623.7,714.8L621.4,715.3L621.0,713.1L620.6,710.8L620.8,707.1L621.1,704.9L620.5,702.6L622.6,700.4L622.3,698.4Z"/>
<path d="M623.7,693.5L625.0,692.3L626.0,690.0L626.9,687.7L626.2,686.2L626.3,683.7L626.5,681.2L627.7,677.7L628.9,674.2L629.8,674.2L631.2,675.7L632.8,674.6L634.5,673.5L637.3,674.9L638.4,678.4L639.5,681.8L640.6,685.3L642.7,685.4L643.5,687.7L646.1,688.5L647.3,690.6L645.9,692.3L644.6,694.0L643.2,695.3L641.8,696.6L640.0,696.7L638.3,696.8L637.5,700.3L635.9,701.9L634.2,703.4L632.3,705.2L631.5,707.6L630.7,710.0L628.4,707.9L628.1,706.6L627.1,703.8L626.2,701.1L625.3,698.6L624.5,696.0Z"/>
</g>
<g fill="#df6434" stroke="#fff" stroke-width="0.45" stroke-linejoin="round">
<path d="M329.2,684.0L329.9,680.9L330.5,680.5L330.2,678.9L330.3,676.5L330.3,674.2L330.2,672.0L329.8,668.3L330.2,666.8L332.5,668.4L334.3,669.4L336.1,670.5L337.5,671.0L338.9,671.6L339.8,671.6L340.2,673.4L340.1,676.0L339.0,677.7L336.9,679.4L339.4,678.7L340.8,676.2L342.0,673.6L341.6,671.1L342.1,669.2L342.6,667.3L341.8,665.0L344.3,665.7L346.8,666.4L349.2,667.0L351.7,667.6L354.2,668.3L356.7,668.9L359.2,669.5L361.7,670.1L364.2,670.6L366.7,671.2L369.2,671.8L371.7,672.3L370.9,675.6L370.2,678.9L369.5,682.2L368.7,685.5L368.0,688.8L367.3,692.1L367.4,694.0L367.2,695.5L364.9,695.1L362.6,694.6L360.4,694.1L358.1,693.5L355.8,693.0L354.1,692.9L352.4,692.9L350.5,693.2L348.7,693.6L346.3,692.9L344.6,692.9L343.0,693.0L341.2,692.3L339.3,691.5L336.9,691.9L334.6,690.5L334.8,688.9L334.8,686.8L333.3,686.0L331.9,684.8L330.6,684.4Z"/>
<path d="M318.3,716.1L318.4,714.1L318.4,712.0L318.3,709.1L319.7,707.2L321.0,705.3L322.2,703.1L323.3,700.9L324.2,698.7L325.1,696.5L326.4,693.5L327.0,691.7L327.7,689.8L328.3,687.9L328.9,686.0L329.2,684.0L330.6,684.4L331.9,684.8L333.3,686.0L334.8,686.8L334.8,688.9L334.6,690.5L336.9,691.9L339.3,691.5L341.2,692.3L343.0,693.0L344.6,692.9L346.3,692.9L348.7,693.6L350.5,693.2L352.4,692.9L354.1,692.9L355.8,693.0L358.1,693.5L360.4,694.1L362.6,694.6L364.9,695.1L367.2,695.5L367.6,697.3L368.6,699.9L367.1,702.0L365.8,703.8L364.1,705.3L362.9,707.2L363.5,709.0L363.9,710.3L362.9,712.3L362.1,715.8L361.3,719.4L360.6,723.0L359.8,726.6L356.9,725.9L354.0,725.3L351.1,724.7L348.3,724.0L345.4,723.3L342.5,722.6L339.8,722.0L337.1,721.3L334.4,720.6L331.7,719.9L329.0,719.1L326.4,718.4L323.7,717.7L321.0,716.9Z"/>
<path d="M342.9,800.5L342.4,799.0L342.6,796.6L341.3,793.1L339.7,791.1L338.0,789.5L336.7,789.2L336.8,787.2L334.6,786.5L332.3,784.9L330.9,783.5L329.5,782.2L327.1,781.4L324.7,780.6L324.0,779.1L324.5,777.0L324.9,774.8L324.1,772.6L322.0,769.5L320.7,766.7L319.5,763.9L319.8,761.5L321.1,760.2L320.3,758.6L318.3,756.1L318.3,753.6L319.0,751.5L320.3,752.5L321.3,754.8L321.1,751.9L322.6,750.2L320.9,749.3L319.1,750.9L316.5,749.0L316.7,745.7L315.5,743.1L314.3,740.4L314.6,738.2L315.0,736.0L314.8,733.9L314.6,731.8L313.6,727.8L315.0,725.8L316.4,723.9L317.1,722.0L317.8,720.2L318.1,718.1L318.3,716.1L321.0,716.9L323.7,717.7L326.4,718.4L329.0,719.1L331.7,719.9L334.4,720.6L337.1,721.3L339.8,722.0L342.5,722.6L341.7,725.9L340.8,729.3L340.0,732.6L339.2,735.9L338.3,739.3L337.5,742.6L336.6,745.9L338.9,749.5L341.2,753.0L343.5,756.5L345.8,760.1L348.2,763.6L350.6,767.1L353.1,770.6L355.6,774.1L358.1,777.5L360.6,781.0L363.2,784.4L363.3,785.7L364.2,789.1L365.3,790.5L363.3,791.8L362.3,792.8L361.6,795.5L360.2,797.7L359.7,800.1L360.7,801.9L359.1,802.2L355.9,801.9L352.7,801.6L349.4,801.3L346.2,800.9Z"/>
<path d="M371.7,672.3L374.2,672.8L376.8,673.4L376.3,676.0L375.7,678.6L375.2,681.2L375.7,683.4L376.2,685.6L378.0,688.0L379.7,690.8L381.0,693.2L382.1,694.4L381.4,696.7L380.7,699.0L379.6,701.6L381.4,701.4L383.1,701.2L383.5,703.6L384.9,707.4L385.7,708.7L386.7,711.8L388.8,711.7L390.8,711.6L393.1,712.0L395.4,712.4L396.7,711.6L397.8,713.4L397.2,717.3L396.6,721.2L396.0,725.1L395.4,729.0L394.8,732.9L391.9,732.4L389.0,732.0L386.0,731.5L383.1,731.0L380.2,730.5L377.3,730.0L374.3,729.5L371.4,728.9L368.5,728.3L365.6,727.8L362.7,727.2L359.8,726.6L360.6,723.0L361.3,719.4L362.1,715.8L362.9,712.3L363.9,710.3L363.5,709.0L362.9,707.2L364.1,705.3L365.8,703.8L367.1,702.0L368.6,699.9L367.6,697.3L367.2,695.5L367.4,694.0L367.3,692.1L368.0,688.8L368.7,685.5L369.5,682.2L370.2,678.9L370.9,675.6Z"/>
<path d="M397.8,713.4L398.1,711.3L398.4,709.2L401.1,709.6L403.7,710.0L406.4,710.3L409.0,710.7L411.6,711.0L414.3,711.3L416.9,711.6L419.6,711.9L422.2,712.2L424.9,712.5L427.5,712.7L430.2,713.0L432.8,713.2L435.5,713.4L438.1,713.6L437.9,716.8L437.6,720.0L437.4,723.2L437.1,726.4L436.9,729.5L436.7,732.7L436.4,735.9L436.2,739.1L435.9,742.3L435.7,745.5L432.9,745.3L430.2,745.0L427.5,744.8L424.7,744.5L422.0,744.3L419.2,744.0L416.5,743.7L413.8,743.4L411.1,743.1L408.3,742.8L405.6,742.4L403.2,742.1L400.8,741.8L398.4,741.5L396.0,741.1L393.6,740.8L394.0,738.1L394.4,735.5L394.8,732.9L395.4,729.0L396.0,725.1L396.6,721.2L397.2,717.3Z"/>
<path d="M369.9,769.4L372.7,769.9L375.6,770.4L378.4,770.9L381.3,771.3L384.2,771.8L387.1,772.2L389.9,772.6L392.8,773.1L395.7,773.5L398.5,773.8L401.4,774.2L400.9,778.0L400.4,781.7L400.0,785.5L399.5,789.2L399.0,793.0L398.5,796.7L398.0,800.5L397.5,804.2L397.0,808.0L396.5,811.7L396.0,815.5L395.5,819.2L392.8,818.8L390.0,818.5L387.3,818.1L384.5,817.7L381.8,817.3L378.8,815.7L375.8,814.0L372.8,812.4L369.9,810.7L366.9,809.0L364.0,807.3L361.1,805.6L358.2,803.9L359.1,802.2L360.7,801.9L359.7,800.1L360.2,797.7L361.6,795.5L362.3,792.8L363.3,791.8L365.3,790.5L364.2,789.1L363.3,785.7L363.2,784.4L363.9,782.9L363.6,780.5L363.9,778.3L364.1,776.1L366.7,776.0L368.7,775.7L369.3,772.5Z"/>
<path d="M439.9,777.9L443.0,778.1L446.0,778.3L449.2,778.4L452.3,778.6L455.5,778.7L458.7,778.8L461.8,778.9L465.0,779.0L468.1,779.1L471.3,779.1L474.5,779.1L477.6,779.2L480.8,779.2L483.9,779.1L487.1,779.1L490.3,779.1L493.4,779.0L493.5,781.0L493.5,783.0L494.0,785.9L494.5,788.9L495.0,791.8L495.0,795.3L495.0,798.8L495.0,802.4L495.0,805.9L493.5,805.4L491.5,804.8L489.5,804.1L487.2,804.2L484.8,804.4L482.8,804.4L480.8,804.4L479.0,804.8L477.2,805.2L475.3,804.4L473.5,803.6L470.9,802.2L469.2,802.0L467.6,801.9L465.6,801.2L463.6,800.6L462.0,800.2L460.3,799.7L458.4,798.4L458.5,794.5L458.6,790.6L458.8,786.7L458.9,782.8L456.2,782.7L453.4,782.6L450.6,782.5L447.9,782.4L445.1,782.2L442.4,782.1L439.6,781.9L439.8,779.9Z"/>
<path d="M477.1,683.6L479.3,683.6L481.6,683.6L483.8,683.6L486.0,683.6L488.3,683.5L488.2,680.5L490.0,681.1L490.5,683.3L491.0,685.4L493.3,686.2L495.6,686.9L497.8,686.5L499.9,686.2L501.6,687.4L503.3,688.5L505.1,689.1L507.0,689.6L508.8,690.1L510.4,689.5L512.0,688.9L514.2,689.3L516.4,689.8L517.8,689.9L519.2,690.0L517.4,690.9L515.7,691.9L513.9,692.8L511.6,695.0L509.2,697.1L507.4,699.1L505.5,701.1L504.5,701.4L504.6,703.8L504.7,706.1L502.5,708.0L502.4,710.7L502.5,713.7L502.6,716.7L505.3,718.6L507.7,720.0L509.5,721.7L511.3,723.4L512.0,726.2L509.2,726.3L506.4,726.5L503.7,726.6L500.9,726.7L498.1,726.8L495.3,726.9L492.6,727.0L489.8,727.0L487.0,727.1L484.3,727.1L481.5,727.1L481.5,723.5L481.5,720.0L481.4,716.4L481.4,712.8L479.2,710.4L480.8,707.7L480.5,705.1L480.0,702.7L479.5,700.4L479.3,698.3L479.1,696.2L478.6,694.2L478.1,692.2L477.9,689.9L477.8,687.5L477.4,685.6Z"/>
<path d="M485.7,750.4L488.5,750.4L491.2,750.3L493.9,750.2L496.6,750.2L499.4,750.0L502.1,749.9L504.8,749.8L507.6,749.7L510.3,749.5L512.3,751.2L511.9,754.2L513.0,756.2L515.6,758.8L517.4,761.9L519.0,762.4L520.6,762.9L520.8,764.9L520.0,768.2L523.0,770.4L525.7,773.0L525.9,775.0L528.4,777.2L527.9,780.5L526.4,781.4L525.9,783.4L525.4,785.5L523.2,785.6L521.0,785.8L521.6,783.7L522.2,781.7L519.0,781.9L515.9,782.1L512.7,782.3L509.5,782.4L506.3,782.6L503.1,782.7L499.9,782.8L496.7,782.9L493.5,783.0L493.5,781.0L493.4,779.0L493.4,775.6L493.3,772.2L493.2,768.8L493.2,765.4L493.1,762.0L491.5,760.3L490.0,758.6L491.2,756.6L488.6,755.1L487.1,752.7Z"/>
<path d="M493.5,783.0L496.7,782.9L499.9,782.8L503.1,782.7L506.3,782.6L509.5,782.4L512.7,782.3L515.9,782.1L519.0,781.9L522.2,781.7L521.6,783.7L521.0,785.8L523.2,785.6L525.4,785.5L524.4,788.8L523.3,792.5L522.1,793.8L520.4,797.1L519.5,799.1L518.6,801.2L518.1,803.2L517.6,805.3L517.5,807.7L517.4,810.1L514.2,810.2L511.0,810.4L507.7,810.5L504.5,810.6L501.3,810.7L498.1,810.8L498.0,808.6L498.0,806.5L495.0,805.9L495.0,802.4L495.0,798.8L495.0,795.3L495.0,791.8L494.5,788.9L494.0,785.9Z"/>
<path d="M498.1,810.8L501.3,810.7L504.5,810.6L507.7,810.5L511.0,810.4L514.2,810.2L517.4,810.1L517.7,812.1L518.1,814.0L519.6,815.5L517.1,819.7L516.2,821.7L515.3,823.8L515.2,826.2L518.5,826.0L521.7,825.8L525.0,825.6L528.3,825.3L528.0,827.8L529.6,830.8L530.2,831.7L531.8,832.7L529.9,834.0L531.5,837.1L534.2,839.6L531.9,841.4L528.8,838.9L526.1,840.6L524.0,841.0L521.9,841.3L520.1,840.4L518.3,839.5L516.5,838.8L514.7,838.1L512.9,838.1L511.1,838.1L507.9,837.3L504.7,836.4L502.5,836.8L500.3,837.2L501.0,833.9L501.0,832.0L501.0,830.0L501.5,828.0L501.9,826.0L500.8,824.0L499.7,822.0L498.3,818.9L498.2,816.2L498.2,813.5Z"/>
<path d="M505.5,701.1L508.0,700.4L510.5,699.6L512.4,698.7L513.1,701.3L514.9,701.6L516.8,703.2L518.7,703.6L520.6,704.0L522.6,704.3L524.3,705.4L526.4,706.0L528.4,706.6L530.4,710.0L531.8,711.9L530.8,714.2L529.9,716.5L531.2,715.2L532.5,713.8L534.7,710.4L533.8,713.7L532.8,717.0L532.5,719.8L532.2,722.7L532.0,725.7L531.7,728.7L532.1,730.7L532.6,732.7L529.8,732.9L527.1,733.2L524.3,733.4L521.5,733.5L518.7,733.7L515.9,733.9L513.0,732.1L512.6,730.2L512.3,728.2L512.0,726.2L511.3,723.4L509.5,721.7L507.7,720.0L505.3,718.6L502.6,716.7L502.5,713.7L502.4,710.7L502.5,708.0L504.7,706.1L504.6,703.8L504.5,701.4Z"/>
<path d="M515.9,733.9L518.7,733.7L521.5,733.5L524.3,733.4L527.1,733.2L529.8,732.9L532.6,732.7L533.5,735.0L534.3,737.3L534.9,738.8L535.3,742.5L535.6,746.3L536.0,750.0L536.4,753.8L536.7,757.6L536.7,761.2L536.1,764.9L535.5,767.6L534.8,770.2L533.6,773.3L532.4,776.3L530.4,776.8L528.4,777.2L525.9,775.0L525.7,773.0L523.0,770.4L520.0,768.2L520.8,764.9L520.6,762.9L519.0,762.4L517.4,761.9L515.6,758.8L513.0,756.2L511.9,754.2L512.3,751.2L512.3,749.8L514.0,747.7L514.0,745.3L514.0,742.9L515.8,742.2L517.5,741.5L518.9,739.4L518.7,737.0Z"/>
<path d="M539.0,738.0L540.6,735.0L541.2,732.4L541.7,729.7L540.5,726.4L539.3,723.1L539.2,719.9L539.5,717.1L539.8,714.3L541.2,712.1L543.0,710.3L543.4,713.1L544.5,712.5L544.3,709.4L545.9,706.0L547.3,704.8L549.2,705.6L551.1,706.5L553.3,708.0L555.6,709.5L556.3,712.4L557.0,715.3L555.6,717.9L554.2,720.5L555.5,719.4L556.8,718.2L558.2,717.6L559.6,717.0L561.8,720.3L562.7,722.6L563.6,724.9L563.6,728.1L561.5,730.0L560.5,731.4L560.2,733.4L559.1,735.8L556.4,736.2L553.8,736.6L551.1,737.1L548.7,737.3L546.3,737.4L543.9,737.6L541.4,737.8Z"/>
<path d="M514.9,701.6L516.6,700.5L518.2,699.4L519.9,698.7L521.5,698.1L523.8,695.9L526.1,694.3L527.1,695.6L525.6,697.7L526.5,698.5L528.2,698.3L529.8,698.2L531.8,700.7L534.0,700.7L536.2,700.7L538.1,699.6L539.9,698.5L541.8,698.0L543.7,697.5L545.2,698.5L547.3,699.4L549.0,699.2L550.5,701.8L551.2,702.7L549.3,703.3L547.3,703.8L545.0,702.9L543.6,703.4L542.3,704.0L540.4,704.6L538.4,705.2L537.0,707.4L534.6,706.7L533.1,708.6L531.8,711.9L530.4,710.0L528.4,706.6L526.4,706.0L524.3,705.4L522.6,704.3L520.6,704.0L518.7,703.6L516.8,703.2Z"/>
<path d="M551.1,737.1L553.8,736.6L556.4,736.2L559.1,735.8L562.0,737.2L563.9,737.3L565.9,736.8L567.9,736.3L569.7,736.0L571.6,734.3L573.4,732.6L576.0,731.1L576.7,734.6L577.3,738.2L577.9,741.7L577.5,743.7L577.7,746.9L577.2,749.4L575.5,752.2L573.5,753.3L572.7,755.9L571.2,756.5L570.4,759.5L568.1,761.3L565.3,759.2L563.3,759.8L561.4,760.5L559.6,760.1L557.8,759.6L555.6,757.5L553.7,757.7L553.2,754.3L552.8,750.8L552.4,747.4L552.0,743.9L551.5,740.5Z"/>
<path d="M528.4,777.2L530.4,776.8L532.4,776.3L533.6,773.3L534.8,770.2L537.4,768.8L539.9,768.4L542.4,768.0L544.0,767.8L545.5,767.6L547.1,766.3L548.7,765.0L550.1,761.1L551.8,760.7L553.5,760.3L553.7,757.7L555.6,757.5L557.8,759.6L559.6,760.1L561.4,760.5L563.3,759.8L565.3,759.2L568.1,761.3L568.5,763.4L570.9,766.7L573.2,767.6L571.1,769.7L569.1,771.8L566.9,774.2L565.2,775.4L563.5,776.7L560.4,777.0L557.3,777.3L554.2,777.6L551.1,777.9L548.0,778.2L544.9,778.5L541.8,778.7L538.7,779.0L535.6,779.2L535.7,780.6L532.6,780.9L529.5,781.2L526.4,781.4L527.9,780.5Z"/>
<path d="M526.4,781.4L529.5,781.2L532.6,780.9L535.7,780.6L535.6,779.2L538.7,779.0L541.8,778.7L544.9,778.5L548.0,778.2L551.1,777.9L554.2,777.6L557.3,777.3L560.4,777.0L563.5,776.7L566.0,776.3L568.6,776.0L571.1,775.6L573.7,775.2L576.2,774.9L576.4,776.8L574.8,779.1L572.9,779.8L571.1,780.4L569.6,781.7L568.2,782.9L565.8,784.7L564.3,785.6L562.8,786.5L561.1,788.3L561.1,789.9L558.4,790.3L555.6,790.6L552.8,790.9L550.0,791.3L547.2,791.6L544.3,791.9L541.5,792.1L538.7,792.4L535.8,792.7L533.1,792.9L530.4,793.1L527.6,793.4L524.9,793.6L522.1,793.8L523.3,792.5L524.4,788.8L525.4,785.5L525.9,783.4Z"/>
<path d="M522.1,793.8L524.9,793.6L527.6,793.4L530.4,793.1L533.1,792.9L535.8,792.7L536.6,793.4L536.5,796.9L536.5,800.3L536.5,803.8L536.4,807.2L536.4,810.6L536.4,814.1L536.3,817.5L536.7,820.6L537.1,823.6L537.5,826.7L537.9,829.8L535.8,829.8L533.7,829.9L531.9,830.8L530.2,831.7L529.6,830.8L528.0,827.8L528.3,825.3L525.0,825.6L521.7,825.8L518.5,826.0L515.2,826.2L515.3,823.8L516.2,821.7L517.1,819.7L519.6,815.5L518.1,814.0L517.7,812.1L517.4,810.1L517.5,807.7L517.6,805.3L518.1,803.2L518.6,801.2L519.5,799.1L520.4,797.1Z"/>
<path d="M535.8,792.7L538.7,792.4L541.5,792.1L544.3,791.9L547.2,791.6L550.0,791.3L552.8,790.9L553.8,794.3L554.7,797.6L555.7,800.9L556.7,804.2L557.7,807.5L558.6,809.7L559.4,811.9L559.5,814.7L559.5,817.5L560.1,819.8L560.8,822.2L557.8,822.5L554.8,822.9L551.9,823.2L548.9,823.5L545.9,823.8L542.9,824.1L543.6,826.0L544.4,828.0L544.0,829.8L542.5,830.1L541.3,829.1L540.1,827.2L540.0,830.4L537.9,829.8L537.5,826.7L537.1,823.6L536.7,820.6L536.3,817.5L536.4,814.1L536.4,810.6L536.4,807.2L536.5,803.8L536.5,800.3L536.5,796.9L536.6,793.4Z"/>
<path d="M544.0,829.8L544.4,828.0L543.6,826.0L542.9,824.1L545.9,823.8L548.9,823.5L551.9,823.2L554.8,822.9L557.8,822.5L560.8,822.2L562.0,824.4L565.1,824.2L568.2,824.0L571.2,823.7L574.3,823.5L577.4,823.2L580.4,822.9L581.7,824.3L581.6,821.3L583.5,821.2L585.4,821.0L586.3,824.2L587.1,826.1L588.0,827.9L589.7,830.9L591.5,833.8L593.3,835.9L595.1,838.0L596.5,841.0L597.8,844.0L599.2,846.9L600.6,849.9L600.9,852.7L601.1,855.4L601.3,858.2L600.7,860.5L600.2,862.7L598.1,863.3L595.9,863.9L594.0,861.4L591.4,859.4L588.9,857.4L587.0,855.3L585.2,853.2L583.4,850.7L581.5,848.2L580.5,846.3L579.5,844.5L579.2,841.3L578.9,838.2L576.0,835.4L573.4,832.5L570.9,829.7L568.7,829.4L566.6,829.1L564.7,830.7L562.8,832.3L561.0,832.6L559.3,832.8L557.3,831.0L555.3,829.2L553.2,828.7L551.0,828.3L548.7,828.8L546.4,829.3Z"/>
<path d="M569.1,788.8L571.5,787.7L574.0,786.5L576.7,786.2L579.5,785.9L582.2,785.6L583.0,785.9L584.2,787.9L586.7,787.6L589.1,787.2L591.6,786.8L594.5,788.9L597.4,790.9L600.3,792.9L598.3,795.0L597.4,797.2L596.5,799.8L594.8,801.7L593.1,803.6L591.6,804.9L590.1,806.2L587.7,810.0L585.9,809.7L584.6,807.9L583.3,806.1L582.1,803.0L579.0,800.7L576.7,799.0L573.5,796.3L571.0,793.0L567.8,791.4Z"/>
<path d="M576.2,774.9L579.3,774.4L582.4,773.9L585.4,773.4L588.5,772.9L591.6,772.4L594.6,771.8L597.7,771.3L600.7,770.7L603.8,770.1L606.8,769.5L609.9,768.9L612.9,768.3L613.5,770.2L612.1,771.5L610.4,772.6L608.7,773.7L611.3,773.5L613.1,773.4L614.8,773.2L614.2,776.2L611.4,777.2L609.6,777.8L607.7,778.4L609.6,778.8L611.5,779.2L609.0,781.4L610.9,781.4L612.7,781.4L611.5,783.7L609.7,784.5L607.8,785.3L606.2,787.3L604.6,789.2L603.8,792.1L602.1,792.5L600.3,792.9L597.4,790.9L594.5,788.9L591.6,786.8L589.1,787.2L586.7,787.6L584.2,787.9L583.0,785.9L582.2,785.6L579.5,785.9L576.7,786.2L574.0,786.5L571.5,787.7L569.1,788.8L566.4,789.2L563.8,789.6L561.1,789.9L561.1,788.3L562.8,786.5L564.3,785.6L565.8,784.7L568.2,782.9L569.6,781.7L571.1,780.4L572.9,779.8L574.8,779.1L576.4,776.8Z"/>
<path d="M576.2,774.9L579.3,774.4L582.4,773.9L585.4,773.4L588.5,772.9L591.6,772.4L594.6,771.8L597.7,771.3L600.7,770.7L603.8,770.1L606.8,769.5L609.9,768.9L612.9,768.3L611.5,765.5L609.2,765.8L606.5,765.1L609.4,764.9L608.4,763.5L605.9,762.4L608.7,761.8L608.4,760.6L605.6,759.6L608.3,758.6L607.7,757.5L605.7,757.1L603.7,756.7L601.3,756.0L601.8,753.8L601.8,752.2L600.2,751.1L598.5,750.4L596.8,749.0L596.4,750.6L594.6,749.8L592.8,749.1L591.7,751.9L590.6,754.6L588.5,757.9L586.1,757.0L585.5,759.5L584.8,762.0L583.6,765.8L581.9,767.2L580.2,768.5L577.8,769.3L575.4,770.0L573.2,767.6L571.1,769.7L569.1,771.8L566.9,774.2L565.2,775.4L563.5,776.7L566.0,776.3L568.6,776.0L571.1,775.6L573.7,775.2Z"/>
<path d="M614.2,755.8L612.4,756.6L610.5,757.3L610.7,760.9L611.4,763.9L612.9,760.5L613.5,758.1Z"/>
<path d="M568.1,761.3L570.4,759.5L571.2,756.5L572.7,755.9L573.5,753.3L575.5,752.2L577.2,749.4L577.7,746.9L577.5,743.7L577.9,741.7L578.5,745.3L579.2,748.9L581.3,748.6L583.4,748.2L585.5,747.8L585.9,749.9L586.3,751.9L588.2,749.5L590.0,748.0L592.2,747.6L593.4,746.5L595.5,746.9L596.8,749.0L596.4,750.6L594.6,749.8L592.8,749.1L591.7,751.9L590.6,754.6L588.5,757.9L586.1,757.0L585.5,759.5L584.8,762.0L583.6,765.8L581.9,767.2L580.2,768.5L577.8,769.3L575.4,770.0L573.2,767.6L570.9,766.7L568.5,763.4Z"/>
<path d="M585.5,747.8L588.3,747.3L591.1,746.8L593.9,746.3L596.6,745.7L599.4,745.1L602.2,744.6L605.0,744.0L607.7,743.4L608.7,746.6L609.6,749.9L610.6,753.1L612.5,752.7L614.5,752.3L614.2,755.8L612.4,756.6L610.5,757.3L608.8,755.2L606.7,753.2L606.3,750.0L606.6,747.9L607.0,745.8L606.2,745.1L604.9,747.8L604.9,750.7L605.3,752.7L605.8,754.6L607.2,756.8L607.7,757.5L605.7,757.1L603.7,756.7L601.3,756.0L601.8,753.8L601.8,752.2L600.2,751.1L598.5,750.4L596.8,749.0L595.5,746.9L593.4,746.5L592.2,747.6L590.0,748.0L588.2,749.5L586.3,751.9L585.9,749.9Z"/>
<path d="M607.7,743.4L608.7,742.3L609.8,742.2L609.2,744.0L609.9,746.3L611.3,748.1L613.6,749.6L614.5,752.3L612.5,752.7L610.6,753.1L609.6,749.9L608.7,746.6Z"/>
<path d="M576.0,731.1L578.1,729.6L580.1,728.1L580.5,730.2L583.3,729.7L586.2,729.1L589.1,728.6L591.9,728.0L594.8,727.4L597.6,726.9L600.5,726.3L603.3,725.6L606.2,725.0L608.7,727.7L611.2,729.1L609.5,732.5L609.5,734.9L610.7,736.3L613.1,738.2L611.5,740.6L609.8,742.2L608.7,742.3L607.7,743.4L605.0,744.0L602.2,744.6L599.4,745.1L596.6,745.7L593.9,746.3L591.1,746.8L588.3,747.3L585.5,747.8L583.4,748.2L581.3,748.6L579.2,748.9L578.5,745.3L577.9,741.7L577.3,738.2L576.7,734.6Z"/>
<path d="M611.2,729.1L613.9,730.0L616.6,730.8L616.4,733.5L615.5,735.2L617.1,735.2L617.6,738.8L617.4,740.9L617.1,743.0L615.8,745.4L614.3,748.4L612.5,746.6L610.0,745.1L609.8,742.2L611.5,740.6L613.1,738.2L610.7,736.3L609.5,734.9L609.5,732.5Z"/>
<path d="M580.1,728.1L582.2,725.3L584.2,722.6L582.7,719.5L584.7,718.8L586.6,718.2L588.6,717.5L590.5,717.4L592.5,717.2L594.5,717.1L596.3,715.8L598.1,714.5L597.9,710.9L596.7,709.5L597.9,708.0L599.2,706.5L600.3,704.6L601.3,702.8L602.7,701.8L604.1,700.9L606.7,700.3L609.2,699.6L611.8,699.0L612.3,700.9L612.8,702.9L613.6,706.4L614.3,709.9L615.3,710.1L616.0,713.2L616.8,716.3L616.8,719.2L616.8,722.1L617.5,725.0L618.2,727.9L617.4,729.8L618.0,730.4L617.5,732.0L616.8,732.8L616.4,733.5L616.6,730.8L613.9,730.0L611.2,729.1L608.7,727.7L606.2,725.0L603.3,725.6L600.5,726.3L597.6,726.9L594.8,727.4L591.9,728.0L589.1,728.6L586.2,729.1L583.3,729.7L580.5,730.2Z"/>
<path d="M616.8,722.1L619.3,721.5L621.8,721.0L624.2,720.4L626.7,719.8L627.3,722.6L627.8,725.3L625.4,726.3L623.6,726.8L621.9,727.4L621.0,728.5L619.5,729.5L618.0,730.4L617.4,729.8L618.2,727.9L617.5,725.0Z"/>
<path d="M626.7,719.8L629.1,719.2L629.4,720.1L630.8,721.3L631.7,722.8L630.7,723.2L629.9,722.4L629.8,724.3L627.8,725.3L627.3,722.6Z"/>
<path d="M616.8,716.3L619.1,715.8L621.4,715.3L623.7,714.8L625.9,714.3L628.1,713.8L628.6,713.3L630.5,711.7L632.2,713.1L631.0,714.2L630.6,716.0L631.3,716.3L633.3,718.2L634.7,719.6L637.2,718.6L635.8,716.9L637.4,717.0L638.2,719.3L637.9,719.8L636.1,720.7L634.3,721.6L634.0,720.3L632.9,722.0L631.7,722.8L630.8,721.3L629.4,720.1L629.1,719.2L626.7,719.8L624.2,720.4L621.8,721.0L619.3,721.5L616.8,722.1L616.8,719.2Z"/>
<path d="M616.6,734.1L618.3,733.8L619.8,733.2L621.4,732.5L623.2,731.2L625.1,729.9L626.7,728.7L628.3,727.4L625.7,727.7L624.2,729.1L622.8,729.5L621.4,730.0L619.9,730.6L618.5,731.1L617.0,732.3Z"/>
</g>
<g fill="#f3b843" stroke="#f3b843" stroke-width="0.7" stroke-linejoin="round">
<path d="M205.5,731.9L208.5,733.2L211.2,733.5L215.4,734.6L220.9,734.9L225.7,734.4L229.4,735.3L241.2,774.2L244.2,773.8L246.3,775.6L250.4,777.0L252.5,777.9L253.2,773.1L255.2,774.5L258.0,776.6L261.4,777.9L264.9,780.7L268.3,782.1L271.8,783.4L273.4,786.9L272.9,788.5L271.8,786.9L270.1,784.4L268.7,786.2L267.9,783.4L264.9,782.1L261.4,779.7L258.0,778.4L254.6,778.9L252.5,779.7L249.1,777.9L245.6,776.6L242.9,775.6L240.1,776.6L236.0,777.5L232.6,776.1L229.1,774.8L225.7,775.9L226.4,777.9L224.3,780.0L221.6,782.8L219.5,783.9L218.8,781.4L220.2,777.9L221.6,775.2L219.5,775.6L217.4,779.3L215.4,783.4L213.7,786.9L211.2,791.0L208.5,794.4L205.8,797.2L202.3,799.9L198.9,800.6L195.4,802.7L192.0,804.5L188.6,806.1L190.6,804.1L194.8,801.3L198.9,799.2L202.3,796.5L205.1,793.1L206.8,789.6L207.1,786.9L203.0,787.6L199.6,786.2L196.8,787.6L196.1,784.8L194.1,782.1L190.6,781.4L188.6,780.0L189.9,777.9L187.6,774.8L189.2,771.8L192.0,768.3L196.1,766.2L198.2,764.9L198.9,761.4L196.1,760.1L192.0,760.5L188.6,760.1L186.5,756.4L190.6,753.9L194.1,752.2L195.4,753.9L199.2,753.2L196.8,751.1L194.5,749.8L192.7,746.3L190.3,743.6L194.1,742.2L196.1,738.8L199.6,735.3L203.0,733.5Z"/>
<path d="M216.1,790.3L218.1,788.2L220.9,788.0L220.6,789.6L218.1,791.7L216.5,792.1Z"/>
<path d="M183.8,807.5L186.2,806.8L185.4,808.3Z"/>
<path d="M179.6,809.6L182.1,808.9L181.3,810.4Z"/>
<path d="M176.3,811.1L178.2,810.4L177.7,811.8Z"/>
</g>
<g fill="#df6434" stroke="#df6434" stroke-width="0.9" stroke-linejoin="round">
<path d="M245.2,820.6L246.6,819.2L248.8,819.4L250.0,821.1L249.1,822.9L247.0,823.2Z"/>
<path d="M254.3,825.4L256.1,824.3L258.0,825.5L259.9,827.1L258.9,828.1L256.6,827.6L255.1,826.9Z"/>
<path d="M264.5,829.9L267.1,829.5L269.8,830.2L269.4,831.0L266.6,830.8Z"/>
<path d="M267.1,832.9L268.5,832.7L268.9,833.9L267.5,834.1Z"/>
<path d="M271.1,832.5L273.2,832.0L274.6,833.4L277.1,833.8L277.8,835.1L275.4,836.0L273.2,835.1L271.5,833.8Z"/>
<path d="M280.2,840.4L283.8,841.6L288.1,845.1L291.3,848.3L287.2,851.2L283.8,853.9L280.6,853.4L279.9,849.5L278.1,845.6L280.2,842.5Z"/>
</g>
</svg></div>
<div class="th" style="left:43.65px;width:75.6px"></div>
<div class="bar" style="left:119.55px"></div>
<div class="t w b hd" id="th0_0" style="left:48px;top:884px;font-size:8.3px;line-height:9.6px;transform:translate(0.35px,0.52px) scale(0.945,0.94);letter-spacing:-0.227px;"><span>STEM</span></div>
<div class="t w b hd" id="th0_1" style="left:48px;top:894px;font-size:8.3px;line-height:9.6px;transform:translate(0.35px,0.12px) scale(0.945,0.94);letter-spacing:-0.014px;"><span>INTRODUCED</span></div>
<div class="t td" id="td0_0" style="left:48px;top:906px;font-size:8.7px;line-height:10.3px;transform:translate(0.25px,0.75px) scaleX(0.94);letter-spacing:-0.024px;"><span>Massachusetts</span></div>
<div class="t td" id="td0_1" style="left:48px;top:917px;font-size:8.7px;line-height:10.3px;transform:translate(0.25px,0.05px) scaleX(0.94);letter-spacing:0.237px;"><span>Minnesota</span></div>
<div class="t td" id="td0_2" style="left:48px;top:927px;font-size:8.7px;line-height:10.3px;transform:translate(0.25px,0.35px) scaleX(0.94);letter-spacing:0.144px;"><span>Missouri</span></div>
<div class="th" style="left:123.92px;width:75.6px"></div>
<div class="bar" style="left:199.82px"></div>
<div class="t w b hd" id="th1_0" style="left:128px;top:884px;font-size:8.3px;line-height:9.6px;transform:translate(0.62px,0.52px) scale(0.945,0.94);letter-spacing:-0.227px;"><span>STEM</span></div>
<div class="t w b hd" id="th1_1" style="left:128px;top:894px;font-size:8.3px;line-height:9.6px;transform:translate(0.62px,0.12px) scale(0.945,0.94);letter-spacing:-0.375px;"><span>PASSED</span></div>
<div class="t td" id="td1_0" style="left:128px;top:906px;font-size:8.7px;line-height:10.3px;transform:translate(0.52px,0.75px) scaleX(0.94);letter-spacing:0.130px;"><span>California</span></div>
<div class="t td" id="td1_1" style="left:128px;top:917px;font-size:8.7px;line-height:10.3px;transform:translate(0.52px,0.05px) scaleX(0.94);letter-spacing:0.301px;"><span>Idaho</span></div>
<div class="t td" id="td1_2" style="left:128px;top:927px;font-size:8.7px;line-height:10.3px;transform:translate(0.52px,0.35px) scaleX(0.94);letter-spacing:0.219px;"><span>Illinois</span></div>
<div class="t td" id="td1_3" style="left:128px;top:937px;font-size:8.7px;line-height:10.3px;transform:translate(0.52px,0.65px) scaleX(0.94);letter-spacing:0.307px;"><span>Michigan</span></div>
<div class="t td" id="td1_4" style="left:128px;top:947px;font-size:8.7px;line-height:10.3px;transform:translate(0.52px,0.95px) scaleX(0.94);letter-spacing:-0.035px;"><span>New York</span></div>
<div class="t td" id="td1_5" style="left:128px;top:958px;font-size:8.7px;line-height:10.3px;transform:translate(0.52px,0.25px) scaleX(0.94);letter-spacing:0.289px;"><span>Washington</span></div>
<div class="th" style="left:204.19px;width:75.6px"></div>
<div class="bar" style="left:280.09px"></div>
<div class="t w b hd" id="th2_0" style="left:208px;top:884px;font-size:8.3px;line-height:9.6px;transform:translate(0.89px,0.52px) scale(0.945,0.94);letter-spacing:0.193px;"><span>NUTRITION</span></div>
<div class="t w b hd" id="th2_1" style="left:208px;top:894px;font-size:8.3px;line-height:9.6px;transform:translate(0.89px,0.12px) scale(0.945,0.94);letter-spacing:-0.014px;"><span>INTRODUCED</span></div>
<div class="t td" id="td2_0" style="left:208px;top:906px;font-size:8.7px;line-height:10.3px;transform:translate(0.79px,0.75px) scaleX(0.94);letter-spacing:0.130px;"><span>California</span></div>
<div class="t td" id="td2_1" style="left:208px;top:917px;font-size:8.7px;line-height:10.3px;transform:translate(0.79px,0.05px) scaleX(0.94);letter-spacing:0.169px;"><span>Florida</span></div>
<div class="t td" id="td2_2" style="left:208px;top:927px;font-size:8.7px;line-height:10.3px;transform:translate(0.79px,0.35px) scaleX(0.94);letter-spacing:0.237px;"><span>Minnesota</span></div>
<div class="t td" id="td2_3" style="left:208px;top:937px;font-size:8.7px;line-height:10.3px;transform:translate(0.79px,0.65px) scaleX(0.94);letter-spacing:0.144px;"><span>Missouri</span></div>
<div class="t td" id="td2_4" style="left:208px;top:947px;font-size:8.7px;line-height:10.3px;transform:translate(0.79px,0.95px) scaleX(0.94);letter-spacing:-0.280px;"><span>New Jersey</span></div>
<div class="t td" id="td2_5" style="left:208px;top:958px;font-size:8.7px;line-height:10.3px;transform:translate(0.79px,0.25px) scaleX(0.94);letter-spacing:0.190px;"><span>Oklahoma</span></div>
<div class="t td" id="td2_6" style="left:208px;top:968px;font-size:8.7px;line-height:10.3px;transform:translate(0.79px,0.55px) scaleX(0.94);letter-spacing:0.410px;"><span>Wyoming</span></div>
<div class="th" style="left:284.46px;width:75.6px"></div>
<div class="bar" style="left:360.36px"></div>
<div class="t w b hd" id="th3_0" style="left:289px;top:884px;font-size:8.3px;line-height:9.6px;transform:translate(0.16px,0.52px) scale(0.945,0.94);letter-spacing:0.193px;"><span>NUTRITION</span></div>
<div class="t w b hd" id="th3_1" style="left:289px;top:894px;font-size:8.3px;line-height:9.6px;transform:translate(0.16px,0.12px) scale(0.945,0.94);letter-spacing:-0.375px;"><span>PASSED</span></div>
<div class="t td" id="td3_0" style="left:289px;top:906px;font-size:8.7px;line-height:10.3px;transform:translate(0.06px,0.75px) scaleX(0.94);letter-spacing:0.169px;"><span>Arizona</span></div>
<div class="t td" id="td3_1" style="left:289px;top:917px;font-size:8.7px;line-height:10.3px;transform:translate(0.06px,0.05px) scaleX(0.94);letter-spacing:0.289px;"><span>Washington</span></div>
<div class="t td" id="td3_2" style="left:289px;top:927px;font-size:8.7px;line-height:10.3px;transform:translate(0.06px,0.35px) scaleX(0.94);letter-spacing:-0.041px;"><span>West Virginia</span></div>
<div class="th" style="left:364.73px;width:75.6px"></div>
<div class="bar" style="left:440.63px"></div>
<div class="t w b hd" id="th4_0" style="left:369px;top:884px;font-size:8.3px;line-height:9.6px;transform:translate(0.43px,0.52px) scale(0.945,0.94);letter-spacing:-0.275px;"><span>LITERACY</span></div>
<div class="t w b hd" id="th4_1" style="left:369px;top:894px;font-size:8.3px;line-height:9.6px;transform:translate(0.43px,0.12px) scale(0.945,0.94);letter-spacing:-0.014px;"><span>INTRODUCED</span></div>
<div class="t td" id="td4_0" style="left:369px;top:906px;font-size:8.7px;line-height:10.3px;transform:translate(0.33px,0.75px) scaleX(0.94);letter-spacing:0.130px;"><span>California</span></div>
<div class="t td" id="td4_1" style="left:369px;top:917px;font-size:8.7px;line-height:10.3px;transform:translate(0.33px,0.05px) scaleX(0.94);letter-spacing:0.065px;"><span>Louisiana</span></div>
<div class="t td" id="td4_2" style="left:369px;top:927px;font-size:8.7px;line-height:10.3px;transform:translate(0.33px,0.35px) scaleX(0.94);letter-spacing:0.307px;"><span>Michigan</span></div>
<div class="t td" id="td4_3" style="left:369px;top:937px;font-size:8.7px;line-height:10.3px;transform:translate(0.33px,0.65px) scaleX(0.94);letter-spacing:0.051px;"><span>Mississippi</span></div>
<div class="t td" id="td4_4" style="left:369px;top:947px;font-size:8.7px;line-height:10.3px;transform:translate(0.33px,0.95px) scaleX(0.94);letter-spacing:0.394px;"><span>Ohio</span></div>
<div class="th" style="left:445.00px;width:75.6px"></div>
<div class="bar" style="left:520.90px"></div>
<div class="t w b hd" id="th5_0" style="left:449px;top:884px;font-size:8.3px;line-height:9.6px;transform:translate(0.70px,0.52px) scale(0.945,0.94);letter-spacing:-0.275px;"><span>LITERACY</span></div>
<div class="t w b hd" id="th5_1" style="left:449px;top:894px;font-size:8.3px;line-height:9.6px;transform:translate(0.70px,0.12px) scale(0.945,0.94);letter-spacing:-0.375px;"><span>PASSED</span></div>
<div class="t td" id="td5_0" style="left:449px;top:906px;font-size:8.7px;line-height:10.3px;transform:translate(0.60px,0.75px) scaleX(0.94);letter-spacing:0.166px;"><span>Alabama</span></div>
<div class="t td" id="td5_1" style="left:449px;top:917px;font-size:8.7px;line-height:10.3px;transform:translate(0.60px,0.05px) scaleX(0.94);letter-spacing:0.169px;"><span>Florida</span></div>
<div class="t td" id="td5_2" style="left:449px;top:927px;font-size:8.7px;line-height:10.3px;transform:translate(0.60px,0.35px) scaleX(0.94);letter-spacing:0.144px;"><span>Missouri</span></div>
<div class="t td" id="td5_3" style="left:449px;top:937px;font-size:8.7px;line-height:10.3px;transform:translate(0.60px,0.65px) scaleX(0.94);letter-spacing:0.038px;"><span>Pennsylvania</span></div>
<div class="t td" id="td5_4" style="left:449px;top:947px;font-size:8.7px;line-height:10.3px;transform:translate(0.60px,0.95px) scaleX(0.94);letter-spacing:-0.010px;"><span>Tennessee</span></div>
<div class="th" style="left:525.27px;width:75.6px"></div>
<div class="bar" style="left:601.17px"></div>
<div class="t w b hd" id="th6_0" style="left:529px;top:884px;font-size:8.3px;line-height:9.6px;transform:translate(0.97px,0.52px) scale(0.945,0.94);letter-spacing:-0.336px;"><span>WORKFORCE DEV.</span></div>
<div class="t w b hd" id="th6_1" style="left:529px;top:894px;font-size:8.3px;line-height:9.6px;transform:translate(0.97px,0.12px) scale(0.945,0.94);letter-spacing:-0.014px;"><span>INTRODUCED</span></div>
<div class="t td" id="td6_0" style="left:529px;top:906px;font-size:8.7px;line-height:10.3px;transform:translate(0.87px,0.75px) scaleX(0.94);letter-spacing:0.167px;"><span>Kentucky</span></div>
<div class="t td" id="td6_1" style="left:529px;top:917px;font-size:8.7px;line-height:10.3px;transform:translate(0.87px,0.05px) scaleX(0.94);letter-spacing:0.239px;"><span>Maryland</span></div>
<div class="t td" id="td6_2" style="left:529px;top:927px;font-size:8.7px;line-height:10.3px;transform:translate(0.87px,0.35px) scaleX(0.94);letter-spacing:0.237px;"><span>Minnesota</span></div>
<div class="t td" id="td6_3" style="left:529px;top:937px;font-size:8.7px;line-height:10.3px;transform:translate(0.87px,0.65px) scaleX(0.94);letter-spacing:0.008px;"><span>North Carolina</span></div>
<div class="t td" id="td6_4" style="left:529px;top:947px;font-size:8.7px;line-height:10.3px;transform:translate(0.87px,0.95px) scaleX(0.94);letter-spacing:-0.142px;"><span>Rhode Island</span></div>
<div class="t td" id="td6_5" style="left:529px;top:958px;font-size:8.7px;line-height:10.3px;transform:translate(0.87px,0.25px) scaleX(0.94);letter-spacing:-0.063px;"><span>South Carolina</span></div>
<div class="t td" id="td6_6" style="left:529px;top:968px;font-size:8.7px;line-height:10.3px;transform:translate(0.87px,0.55px) scaleX(0.94);letter-spacing:-0.010px;"><span>Tennessee</span></div>
<div class="th" style="left:605.54px;width:155.7px"></div>
<div class="t w b hd" id="th7_0" style="left:610px;top:884px;font-size:8.3px;line-height:9.6px;transform:translate(0.24px,0.52px) scale(0.945,0.94);letter-spacing:-0.198px;"><span>WORKFORCE DEVELOPMENT</span></div>
<div class="t w b hd" id="th7_1" style="left:610px;top:894px;font-size:8.3px;line-height:9.6px;transform:translate(0.24px,0.12px) scale(0.945,0.94);letter-spacing:-0.375px;"><span>PASSED</span></div>
<div class="t td" id="td7_0" style="left:610px;top:906px;font-size:8.7px;line-height:10.3px;transform:translate(0.14px,0.75px) scaleX(0.94);letter-spacing:0.130px;"><span>California</span></div>
<div class="t td" id="td7_1" style="left:610px;top:917px;font-size:8.7px;line-height:10.3px;transform:translate(0.14px,0.05px) scaleX(0.94);letter-spacing:0.247px;"><span>Connecticut</span></div>
<div class="t td" id="td7_2" style="left:610px;top:927px;font-size:8.7px;line-height:10.3px;transform:translate(0.14px,0.35px) scaleX(0.94);letter-spacing:-0.009px;"><span>District of Columbia</span></div>
<div class="t td" id="td7_3" style="left:610px;top:937px;font-size:8.7px;line-height:10.3px;transform:translate(0.14px,0.65px) scaleX(0.94);letter-spacing:0.114px;"><span>Delaware</span></div>
<div class="t td" id="td7_4" style="left:610px;top:947px;font-size:8.7px;line-height:10.3px;transform:translate(0.14px,0.95px) scaleX(0.94);letter-spacing:0.169px;"><span>Florida</span></div>
<div class="t td" id="td7_5" style="left:610px;top:958px;font-size:8.7px;line-height:10.3px;transform:translate(0.14px,0.25px) scaleX(0.94);letter-spacing:0.188px;"><span>Hawaii</span></div>
<div class="t td" id="td7_6" style="left:610px;top:968px;font-size:8.7px;line-height:10.3px;transform:translate(0.14px,0.55px) scaleX(0.94);letter-spacing:-0.024px;"><span>Massachusetts</span></div>
<div class="t td" id="td7_7" style="left:610px;top:978px;font-size:8.7px;line-height:10.3px;transform:translate(0.14px,0.85px) scaleX(0.94);letter-spacing:0.307px;"><span>Michigan</span></div>
<div class="t td" id="td8_0" style="left:689px;top:906px;font-size:8.7px;line-height:10.3px;transform:translate(0.60px,0.75px) scaleX(0.94);letter-spacing:0.144px;"><span>Missouri</span></div>
<div class="t td" id="td8_1" style="left:689px;top:917px;font-size:8.7px;line-height:10.3px;transform:translate(0.60px,0.05px) scaleX(0.94);letter-spacing:0.051px;"><span>Mississippi</span></div>
<div class="t td" id="td8_2" style="left:689px;top:927px;font-size:8.7px;line-height:10.3px;transform:translate(0.60px,0.35px) scaleX(0.94);letter-spacing:-0.280px;"><span>New Jersey</span></div>
<div class="t td" id="td8_3" style="left:689px;top:937px;font-size:8.7px;line-height:10.3px;transform:translate(0.60px,0.65px) scaleX(0.94);letter-spacing:-0.035px;"><span>New York</span></div>
<div class="t td" id="td8_4" style="left:689px;top:947px;font-size:8.7px;line-height:10.3px;transform:translate(0.60px,0.95px) scaleX(0.94);letter-spacing:0.286px;"><span>Oregon</span></div>
<div class="t td" id="td8_5" style="left:689px;top:958px;font-size:8.7px;line-height:10.3px;transform:translate(0.60px,0.25px) scaleX(0.94);letter-spacing:0.038px;"><span>Pennsylvania</span></div>
<div class="t td" id="td8_6" style="left:689px;top:968px;font-size:8.7px;line-height:10.3px;transform:translate(0.60px,0.55px) scaleX(0.94);letter-spacing:0.289px;"><span>Washington</span></div>
</body></html>
